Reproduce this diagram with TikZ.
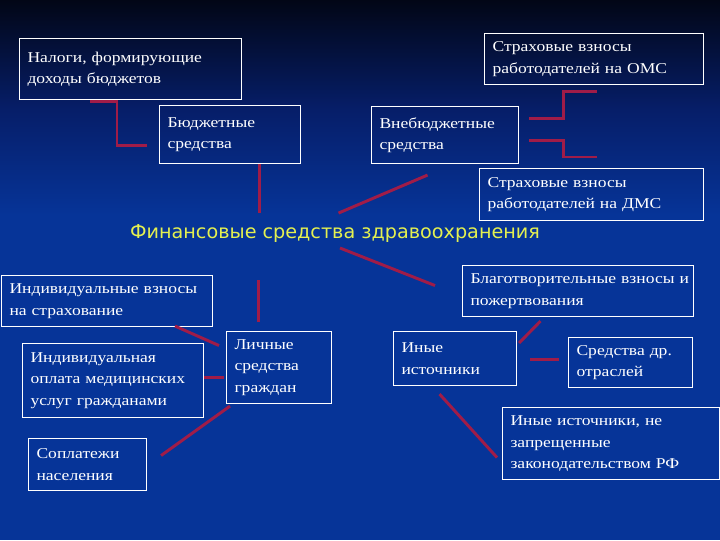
\documentclass[tikz,border=0pt]{standalone}
\usepackage{fontspec}
\setmainfont{Liberation Serif}
\newfontfamily\boxfont[FakeStretch=1.17]{Liberation Serif}
\newfontfamily\titlefont{DejaVu Sans}
\usetikzlibrary{calc}
\definecolor{bgtop}{RGB}{2,6,22}
\definecolor{bgmid}{RGB}{6,30,105}
\definecolor{bgmain}{RGB}{6,52,152}
\definecolor{linkred}{RGB}{160,28,72}
\definecolor{titleyellow}{RGB}{228,240,80}
\tikzset{
  box/.style={draw=white, line width=0.8pt, anchor=north west, align=left,
    inner xsep=6pt, inner ysep=0pt, text=white,
    font=\boxfont\fontsize{11.25}{16}\selectfont},
  link/.style={draw=linkred, line width=2.2pt}
}
\begin{document}
\begin{tikzpicture}[x=0.75pt,y=-0.75pt]
\useasboundingbox (0,0) rectangle (720,540);
\fill[bgmain] (0,0) rectangle (720,540);
\shade[top color=bgtop, bottom color=bgmid] (0,0) rectangle (720,110);
\shade[top color=bgmid, bottom color=bgmain] (0,110) rectangle (720,215);

\node[box, text width=154.5pt, minimum height=45.75pt] (nal) at (19,38) {Налоги, формирующие\\доходы бюджетов};
\node[box, text width=152.25pt, minimum height=38.25pt] (oms) at (484,33) {Страховые взносы\\работодателей на~ОМС};
\node[box, text width=93.75pt, minimum height=43.5pt] (bud) at (159,105) {Бюджетные\\средства};
\node[box, text width=98.25pt, minimum height=42.75pt] (vne) at (371,106) {Внебюджетные\\средства};
\node[box, text width=156pt, minimum height=39pt] (dms) at (479,168) {Страховые взносы\\работодателей на~ДМС};
\node[text=titleyellow, font=\titlefont\fontsize{14.4}{17}\selectfont] (title) at (335,233) {Финансовые средства здравоохранения};
\node[box, text width=146.25pt, minimum height=38.25pt] (ivz) at (1,275) {Индивидуальные~взносы\\на страхование};
\node[box, text width=161.25pt, minimum height=38.25pt] (bla) at (462,265) {Благотворительные~взносы~и\\пожертвования};
\node[box, text width=123.75pt, minimum height=55.5pt] (iop) at (22,343) {Индивидуальная\\оплата~медицинских\\услуг~гражданами};
\node[box, text width=66.75pt, minimum height=54pt] (lic) at (226,331) {Личные\\средства\\граждан};
\node[box, text width=76.5pt, minimum height=39pt] (sop) at (28,438) {Соплатежи\\населения};
\node[box, text width=80.25pt, minimum height=40.5pt] (ini) at (393,331) {Иные\\источники};
\node[box, text width=81pt, minimum height=37.5pt] (sdr) at (568,337) {Средства~др.\\отраслей};
\node[box, text width=150.75pt, minimum height=54pt] (inz) at (502,407) {Иные~источники,~не\\запрещенные\\законодательством~РФ};

% connectors
\draw[link] ($(nal.south west)+(71,1)$) -| ($(bud.west)+(-42,11)$) -- ($(bud.west)+(-12,11)$);
\draw[link] ($(bud.south east)+(-42,0)$) -- ($(bud.south east)+(-42,49)$);
\draw[link] ($(vne.south)+(-17.5,11)$) -- ($(vne.south)+(-106.5,49)$);
\draw[link] ($(vne.east)+(10,-16.5)$) -- ++(34,0) |- ($(oms.south west)+(113,6)$);
\draw[link] ($(vne.east)+(10,5.5)$) -- ++(34,0) |- ($(dms.north west)+(118,-11)$);
\draw[link] ($(title.center)+(5,15)$) -- ($(bla.west)+(-27,-5.5)$);
\draw[link] ($(lic.north)+(-20.5,-51)$) -- ($(lic.north)+(-20.5,-9)$);
\draw[link] ($(ivz.south east)+(-38,-1)$) -- ($(lic.west)+(-7,-22)$);
\draw[link] ($(iop.east)+(0,-3)$) -- ($(lic.west)+(-2,10)$);
\draw[link] ($(lic.south west)+(4,2)$) -- ($(sop.east)+(14,-9)$);
\draw[link] ($(bla.south)+(-37.5,4)$) -- ($(ini.north east)+(2,12)$);
\draw[link] ($(ini.east)+(13,1)$) -- ($(sdr.west)+(-9,-3)$);
\draw[link] ($(ini.south)+(-15.5,8)$) -- ($(inz.west)+(-5,14)$);
\end{tikzpicture}
\end{document}
